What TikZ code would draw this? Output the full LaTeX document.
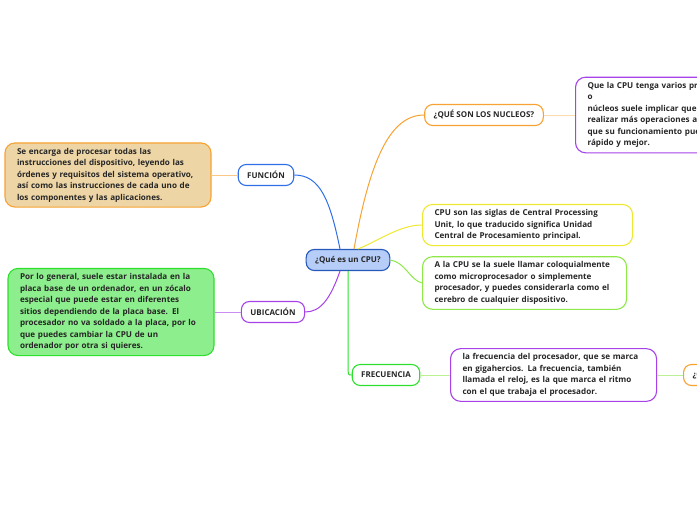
\documentclass[tikz,border=0pt]{standalone}
\usepackage{fontspec}
\setmainfont{Open Sans}
\begin{document}
\begin{tikzpicture}[x=1pt,y=-1pt,
 box/.style={draw,line width=1.1pt,rounded corners=10pt,align=left,font=\fontsize{8.1}{11.5}\selectfont\bfseries,text=black!85,inner xsep=12pt,inner ysep=5pt},
 lbl/.style={draw,line width=1.1pt,rounded corners=8pt,font=\fontsize{8}{9}\selectfont\bfseries,text=black!85,minimum height=21pt,inner xsep=9pt},
 con/.style={line width=1pt}]
\useasboundingbox (0,0) rectangle (697,520);
\clip (0,0) rectangle (697,520);
\definecolor{cblue}{HTML}{2F6FE8}
\definecolor{corange}{HTML}{F7A233}
\definecolor{cpurple}{HTML}{A642E8}
\definecolor{cgreen}{HTML}{2EE02E}
\definecolor{clgreen}{HTML}{8EE84A}
\definecolor{cyellow}{HTML}{F0E830}
\definecolor{ctan}{HTML}{EDD5A6}

\node[lbl,draw=cblue!80!black,fill=cblue!35!white] (c) at (348,260) {¿Qué es un CPU?};
\node[lbl,draw=cblue] (fun) at (266,175) {FUNCIÓN};
\node[lbl,draw=cpurple] (ubi) at (273,312) {UBICACIÓN};
\node[lbl,draw=corange] (nuc) at (484,115) {¿QUÉ SON LOS NUCLEOS?};
\node[lbl,draw=cgreen] (fre) at (386,375) {FRECUENCIA};

\node[box,draw=corange,fill=ctan,text width=182pt] (b1) at (108,175) {Se encarga de procesar todas las\\ instrucciones del dispositivo, leyendo las\\ órdenes y requisitos del sistema operativo,\\ así como las instrucciones de cada uno de\\ los componentes y las aplicaciones.};
\node[box,draw=cgreen,fill=cgreen!55!white,text width=182pt] (b2) at (111,312) {Por lo general, suele estar instalada en la\\ placa base de un ordenador, en un zócalo\\ especial que puede estar en diferentes\\ sitios dependiendo de la placa base. El\\ procesador no va soldado a la placa, por lo\\ que puedes cambiar la CPU de un\\ ordenador por otra si quieres.};
\node[box,draw=cpurple,anchor=west,text width=160pt] (b3) at (575,115) {Que la CPU tenga varios procesadores o\\ núcleos suele implicar que puede\\ realizar más operaciones a la vez, y\\ que su funcionamiento puede ser más\\ rápido y mejor.};
\node[box,draw=cyellow,anchor=west,text width=186pt] (b4) at (422,225) {CPU son las siglas de Central Processing\\ Unit, lo que traducido significa Unidad\\ Central de Procesamiento principal.};
\node[box,draw=clgreen,anchor=west,text width=180pt] (b5) at (422,283) {A la CPU se la suele llamar coloquialmente\\ como microprocesador o simplemente\\ procesador, y puedes considerarla como el\\ cerebro de cualquier dispositivo.};
\node[box,draw=cpurple,anchor=west,text width=182pt] (b6) at (450,375) {la frecuencia del procesador, que se marca\\ en gigahercios. La frecuencia, también\\ llamada el reloj, es la que marca el ritmo\\ con el que trabaja el procesador.};
\node[lbl,draw=corange,anchor=west] (b7) at (683,375) {¿Qué};

\draw[con,cblue] (c.north) ++(-8,0) .. controls (330,200) and (320,175) .. (fun.east);
\draw[con,cpurple] (c.south) ++(-8,0) .. controls (330,300) and (320,312) .. (ubi.east);
\draw[con,corange] (c.north) ++(6,0) .. controls (370,160) and (390,115) .. (nuc.west);
\draw[con,cyellow] (c.north) ++(10,0) .. controls (380,240) and (400,225) .. (b4.west);
\draw[con,clgreen] (c.east) .. controls (405,262) and (410,280) .. (b5.west);
\draw[con,cgreen] (c.south) -- (348,365) .. controls (348,375) .. (fre.west);
\draw[con,corange!60!white] (b1.east) -- (fun.west);
\draw[con,cpurple!60!white] (b2.east) -- (ubi.west);
\draw[con,corange!40!white] (nuc.east) -- (b3.west);
\draw[con,clgreen!60!white] (fre.east) -- (b6.west);
\draw[con,clgreen!60!white] (b6.east) -- (b7.west);
\end{tikzpicture}
\end{document}
